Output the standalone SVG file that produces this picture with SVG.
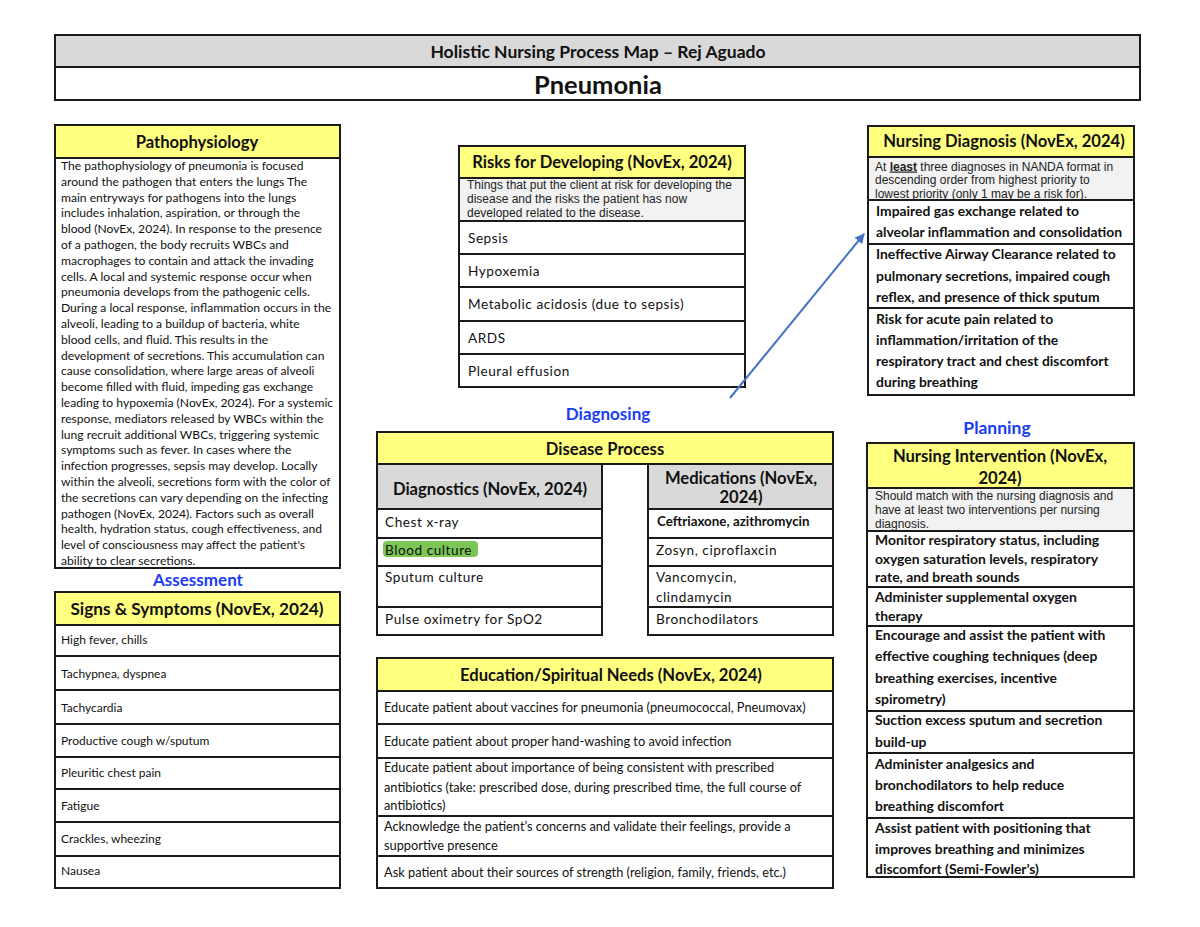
<svg xmlns="http://www.w3.org/2000/svg" width="1200" height="927" viewBox="0 0 1200 927">
<style>
text{font-family:Lato,"Open Sans","Liberation Sans",sans-serif;fill:#111}
.box{fill:#fff;stroke:#1a1a1a;stroke-width:2}
.yel{fill:#ffff80;stroke:#1a1a1a;stroke-width:2}
.gry{fill:#d9d9d9;stroke:#1a1a1a;stroke-width:2}
.dsc{fill:#f2f2f2;stroke:#1a1a1a;stroke-width:2}
.row{fill:#fff;stroke:#1a1a1a;stroke-width:2}
.h{font-weight:bold;font-size:16.6px;text-anchor:middle}
.p{font-size:12.1px}
.s{font-size:12px}
.r{font-size:13.6px;letter-spacing:0.55px}
.e{font-size:12.8px}
.a{font-family:"Liberation Sans",Arial,sans-serif;font-size:12px;fill:#222}
.b{font-weight:bold;font-size:13.9px}
.lbl{font-weight:bold;font-size:17px;fill:#1a3cf5;text-anchor:middle}
.con{stroke:#4472c4;stroke-width:2;fill:none}
</style>
<defs>
<marker id="ah" viewBox="0 0 10 10" refX="9" refY="5" markerWidth="5" markerHeight="5" orient="auto" markerUnits="strokeWidth">
<path d="M0,0 L10,5 L0,10 z" fill="#4472c4"/>
</marker>
</defs>
<rect width="1200" height="927" fill="#fff"/>

<g id="title">
<rect x="55" y="35" width="1085" height="32" class="gry"/>
<rect x="55" y="67" width="1085" height="33" class="box"/>
<text x="598" y="57.5" class="h" style="font-size:17.5px">Holistic Nursing Process Map – Rej Aguado</text>
<text x="598" y="94" class="h" style="font-size:25.5px">Pneumonia</text>
</g>

<g id="pathophysiology">
<rect x="55" y="125" width="285" height="33" class="yel"/>
<rect x="55" y="158" width="285" height="410" class="box"/>
<text x="197" y="148" class="h">Pathophysiology</text>
<text x="61" y="170" class="p">The pathophysiology of pneumonia is focused</text>
<text x="61" y="185.8" class="p">around the pathogen that enters the lungs  The</text>
<text x="61" y="201.6" class="p">main entryways for pathogens into the lungs</text>
<text x="61" y="217.4" class="p">includes inhalation, aspiration, or through the</text>
<text x="61" y="233.2" class="p">blood (NovEx, 2024).  In response to the presence</text>
<text x="61" y="249" class="p">of a pathogen, the body recruits WBCs and</text>
<text x="61" y="264.8" class="p">macrophages to contain and attack the invading</text>
<text x="61" y="280.6" class="p">cells.  A local and systemic response occur when</text>
<text x="61" y="296.4" class="p">pneumonia develops from the pathogenic cells.</text>
<text x="61" y="312.2" class="p">During a local response, inflammation occurs in the</text>
<text x="61" y="328" class="p">alveoli, leading to a buildup of bacteria, white</text>
<text x="61" y="343.8" class="p">blood cells, and fluid.  This results in the</text>
<text x="61" y="359.6" class="p">development of secretions.  This accumulation can</text>
<text x="61" y="375.4" class="p">cause consolidation, where large areas of alveoli</text>
<text x="61" y="391.2" class="p">become filled with fluid, impeding gas exchange</text>
<text x="61" y="407" class="p">leading to hypoxemia (NovEx, 2024).  For a systemic</text>
<text x="61" y="422.8" class="p">response, mediators released by WBCs within the</text>
<text x="61" y="438.6" class="p">lung recruit additional WBCs, triggering systemic</text>
<text x="61" y="454.4" class="p">symptoms such as fever.  In cases where the</text>
<text x="61" y="470.2" class="p">infection progresses, sepsis may develop.  Locally</text>
<text x="61" y="486" class="p">within the alveoli, secretions form with the color of</text>
<text x="61" y="501.8" class="p">the secretions can vary depending on the infecting</text>
<text x="61" y="517.6" class="p">pathogen (NovEx, 2024).  Factors such as overall</text>
<text x="61" y="533.4" class="p">health, hydration status, cough effectiveness, and</text>
<text x="61" y="549.2" class="p">level of consciousness may affect the patient's</text>
<text x="61" y="565" class="p">ability to clear secretions.</text>
</g>

<text x="198" y="586" class="lbl">Assessment</text>

<g id="signs-symptoms">
<rect x="55" y="592" width="285" height="33" class="yel"/>
<text x="197" y="614.5" class="h" style="font-size:17.2px">Signs &amp; Symptoms (NovEx, 2024)</text>
<rect x="55" y="625" width="285" height="31" class="row"/>
<rect x="55" y="656" width="285" height="34" class="row"/>
<rect x="55" y="690" width="285" height="34" class="row"/>
<rect x="55" y="724" width="285" height="33" class="row"/>
<rect x="55" y="757" width="285" height="32" class="row"/>
<rect x="55" y="789" width="285" height="33" class="row"/>
<rect x="55" y="822" width="285" height="34" class="row"/>
<rect x="55" y="856" width="285" height="32" class="row"/>
<text x="61" y="644" class="s">High fever, chills</text>
<text x="61" y="678" class="s">Tachypnea, dyspnea</text>
<text x="61" y="712" class="s">Tachycardia</text>
<text x="61" y="745" class="s">Productive cough w/sputum</text>
<text x="61" y="777" class="s">Pleuritic chest pain</text>
<text x="61" y="810" class="s">Fatigue</text>
<text x="61" y="843" class="s">Crackles, wheezing</text>
<text x="61" y="875" class="s">Nausea</text>
</g>

<g id="risks">
<rect x="459" y="146" width="286" height="32" class="yel"/>
<text x="602" y="168" class="h">Risks for Developing (NovEx, 2024)</text>
<rect x="459" y="178" width="286" height="43" class="dsc"/>
<text x="467" y="188.5" class="a">Things that put the client at risk for developing the</text>
<text x="467" y="202.5" class="a">disease and the risks the patient has now</text>
<text x="467" y="216.5" class="a">developed related to the disease.</text>
<rect x="459" y="221" width="286" height="33" class="row"/>
<rect x="459" y="254" width="286" height="33" class="row"/>
<rect x="459" y="287" width="286" height="34" class="row"/>
<rect x="459" y="321" width="286" height="33" class="row"/>
<rect x="459" y="354" width="286" height="33" class="row"/>
<text x="468" y="243" class="r">Sepsis</text>
<text x="468" y="275.5" class="r">Hypoxemia</text>
<text x="468" y="309" class="r">Metabolic acidosis (due to sepsis)</text>
<text x="468" y="342.5" class="r">ARDS</text>
<text x="468" y="376" class="r">Pleural effusion</text>
</g>

<text x="608" y="419.5" class="lbl">Diagnosing</text>

<g id="disease-process">
<rect x="377" y="432" width="456" height="32" class="yel"/>
<text x="605" y="454.5" class="h">Disease Process</text>
<rect x="377" y="464" width="225" height="45" class="gry"/>
<text x="490" y="494.5" class="h">Diagnostics (NovEx, 2024)</text>
<rect x="377" y="509" width="225" height="29" class="row"/>
<rect x="377" y="538" width="225" height="28" class="row"/>
<rect x="377" y="566" width="225" height="41" class="row"/>
<rect x="377" y="607" width="225" height="28" class="row"/>
<rect x="383" y="541" width="95" height="16" rx="4" fill="#7cc655"/>
<text x="385" y="527" class="r">Chest x-ray</text>
<text x="385" y="554.5" class="r">Blood culture</text>
<text x="385" y="582" class="r">Sputum culture</text>
<text x="385" y="624" class="r">Pulse oximetry for SpO2</text>
<rect x="648" y="464" width="185" height="45" class="gry"/>
<text x="741" y="483.5" class="h">Medications (NovEx,</text>
<text x="741" y="502.5" class="h">2024)</text>
<rect x="648" y="509" width="185" height="29" class="row"/>
<rect x="648" y="538" width="185" height="28" class="row"/>
<rect x="648" y="566" width="185" height="41" class="row"/>
<rect x="648" y="607" width="185" height="28" class="row"/>
<text x="657" y="525.5" style="font-size:13.4px;font-weight:bold">Ceftriaxone, azithromycin</text>
<text x="656" y="554.5" class="r">Zosyn, ciproflaxcin</text>
<text x="656" y="582" class="r">Vancomycin,</text>
<text x="656" y="602" class="r">clindamycin</text>
<text x="656" y="624" class="r">Bronchodilators</text>
</g>

<g id="education">
<rect x="377" y="658" width="456" height="33" class="yel"/>
<text x="611" y="681" class="h">Education/Spiritual Needs (NovEx, 2024)</text>
<rect x="377" y="691" width="456" height="33" class="row"/>
<rect x="377" y="724" width="456" height="34" class="row"/>
<rect x="377" y="758" width="456" height="58" class="row"/>
<rect x="377" y="816" width="456" height="40" class="row"/>
<rect x="377" y="856" width="456" height="32" class="row"/>
<text x="384" y="711.5" class="e">Educate patient about vaccines for pneumonia (pneumococcal, Pneumovax)</text>
<text x="384" y="745.5" class="e">Educate patient about proper hand-washing to avoid infection</text>
<text x="384" y="771.5" class="e">Educate patient about importance of being consistent with prescribed</text>
<text x="384" y="791.5" class="e">antibiotics (take: prescribed dose, during prescribed time, the full course of</text>
<text x="384" y="809.5" class="e">antibiotics)</text>
<text x="384" y="830.5" class="e">Acknowledge the patient’s concerns and validate their feelings, provide a</text>
<text x="384" y="849.5" class="e">supportive presence</text>
<text x="384" y="876.5" class="e">Ask patient about their sources of strength (religion, family, friends, etc.)</text>
</g>

<g id="nursing-diagnosis">
<rect x="868" y="126" width="266" height="31" class="yel"/>
<text x="1004" y="147" class="h">Nursing Diagnosis (NovEx, 2024)</text>
<rect x="868" y="157" width="266" height="43" class="dsc"/>
<text x="875" y="170.5" class="a">At <tspan font-weight="bold" text-decoration="underline">least</tspan> three diagnoses in NANDA format in</text>
<text x="875" y="184" class="a">descending order from highest priority to</text>
<text x="875" y="197.5" class="a">lowest priority (only 1 may be a risk for).</text>
<rect x="868" y="200" width="266" height="44" class="row"/>
<rect x="868" y="244" width="266" height="64" class="row"/>
<rect x="868" y="308" width="266" height="87" class="row"/>
<text x="876" y="216" class="b">Impaired gas exchange related to</text>
<text x="876" y="237" class="b">alveolar inflammation and consolidation</text>
<text x="876" y="259" class="b">Ineffective Airway Clearance related to</text>
<text x="876" y="281" class="b">pulmonary secretions, impaired cough</text>
<text x="876" y="302" class="b">reflex, and presence of thick sputum</text>
<text x="876" y="324" class="b">Risk for acute pain related to</text>
<text x="876" y="345" class="b">inflammation/irritation of the</text>
<text x="876" y="366" class="b">respiratory tract and chest discomfort</text>
<text x="876" y="387" class="b">during breathing</text>
</g>

<text x="997" y="434" class="lbl" style="font-size:17.5px">Planning</text>

<g id="nursing-intervention">
<rect x="867" y="443" width="267" height="45" class="yel"/>
<text x="1000" y="461.5" class="h">Nursing Intervention (NovEx,</text>
<text x="1000" y="483.5" class="h">2024)</text>
<rect x="867" y="488" width="267" height="43" class="dsc"/>
<text x="875" y="499.5" class="a">Should match with the nursing diagnosis and</text>
<text x="875" y="513.5" class="a">have at least two interventions per nursing</text>
<text x="875" y="527.5" class="a">diagnosis.</text>
<rect x="867" y="531" width="267" height="56" class="row"/>
<rect x="867" y="587" width="267" height="39" class="row"/>
<rect x="867" y="626" width="267" height="85" class="row"/>
<rect x="867" y="711" width="267" height="42" class="row"/>
<rect x="867" y="753" width="267" height="65" class="row"/>
<rect x="867" y="818" width="267" height="59" class="row"/>
<text x="875" y="545" class="b">Monitor respiratory status, including</text>
<text x="875" y="564" class="b">oxygen saturation levels, respiratory</text>
<text x="875" y="582" class="b">rate, and breath sounds</text>
<text x="875" y="602" class="b">Administer supplemental oxygen</text>
<text x="875" y="621" class="b">therapy</text>
<text x="875" y="640" class="b">Encourage and assist the patient with</text>
<text x="875" y="661" class="b">effective coughing techniques (deep</text>
<text x="875" y="683" class="b">breathing exercises, incentive</text>
<text x="875" y="704" class="b">spirometry)</text>
<text x="875" y="725" class="b">Suction excess sputum and secretion</text>
<text x="875" y="747" class="b">build-up</text>
<text x="875" y="769" class="b">Administer analgesics and</text>
<text x="875" y="790" class="b">bronchodilators to help reduce</text>
<text x="875" y="811" class="b">breathing discomfort</text>
<text x="875" y="833" class="b">Assist patient with positioning that</text>
<text x="875" y="854" class="b">improves breathing and minimizes</text>
<text x="875" y="874" class="b">discomfort (Semi-Fowler’s)</text>
</g>

<g id="connectors">
<line x1="730" y1="398" x2="864" y2="234" class="con" marker-end="url(#ah)"/>
</g>
</svg>
